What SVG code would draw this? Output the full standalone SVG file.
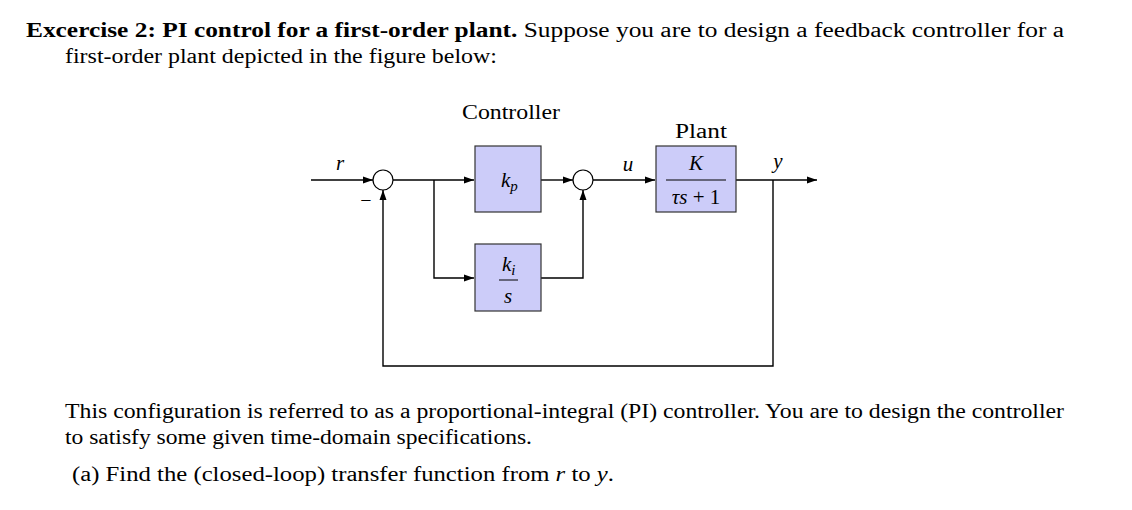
<svg xmlns="http://www.w3.org/2000/svg" width="1132" height="510" viewBox="0 0 1132 510">
<style>
text{font-family:"Liberation Serif","DejaVu Serif",serif;fill:#000}
.t{font-size:20px}
.m{font-size:21px;font-style:italic}
.blk{fill:#ccccf9;stroke:#333;stroke-width:1.2}
.sum{fill:#fff;stroke:#000;stroke-width:1.2}
.ln{fill:none;stroke:#000;stroke-width:1.4}
</style>
<defs><marker id="a" viewBox="0 0 10 10" refX="10" refY="5" markerWidth="10" markerHeight="10" markerUnits="userSpaceOnUse" orient="auto"><path d="M0,1.5L10,5L0,8.5z" fill="#000"/></marker></defs>
<rect width="1132" height="510" fill="#fff"/>
<text class="t" x="26" y="37" textLength="1038" lengthAdjust="spacingAndGlyphs"><tspan font-weight="bold">Excercise 2: PI control for a first-order plant.</tspan> Suppose you are to design a feedback controller for a</text>
<text class="t" x="65" y="63" textLength="432" lengthAdjust="spacingAndGlyphs">first-order plant depicted in the figure below:</text>
<g id="connectors">
<path class="ln" d="M311,180H373" marker-end="url(#a)"/>
<path class="ln" d="M393,180H474" marker-end="url(#a)"/>
<path class="ln" d="M434,180V278H474" marker-end="url(#a)"/>
<path class="ln" d="M541,180H573" marker-end="url(#a)"/>
<path class="ln" d="M541,278H583V190" marker-end="url(#a)"/>
<path class="ln" d="M593,180H655" marker-end="url(#a)"/>
<path class="ln" d="M736,180H817" marker-end="url(#a)"/>
<path class="ln" d="M773,180V366H383V190" marker-end="url(#a)"/>
</g>
<g id="sum1"><circle class="sum" cx="383" cy="180" r="10"/></g>
<g id="sum2"><circle class="sum" cx="583" cy="180" r="10"/></g>
<g id="kp"><rect class="blk" x="475" y="146" width="66" height="66"/><text class="m" x="501" y="187">k<tspan font-size="15" dy="4">p</tspan></text></g>
<g id="ki"><rect class="blk" x="475" y="244" width="66" height="67"/><text class="m" x="502" y="271">k<tspan font-size="15" dy="4">i</tspan></text><line x1="499" y1="280" x2="518" y2="280" stroke="#000"/><text class="m" x="508" y="303" text-anchor="middle">s</text></g>
<g id="plant"><rect class="blk" x="656" y="146" width="80" height="66"/><text class="m" x="696" y="170" text-anchor="middle">K</text><line x1="666" y1="180" x2="726" y2="180" stroke="#000"/><text class="m" x="696" y="204" text-anchor="middle">τs <tspan font-style="normal">+ 1</tspan></text></g>
<text class="m" x="340" y="170" text-anchor="middle">r</text>
<text class="t" x="366" y="207" text-anchor="middle">−</text>
<text class="t" x="511" y="119" text-anchor="middle" textLength="98" lengthAdjust="spacingAndGlyphs">Controller</text>
<text class="t" x="701" y="138" text-anchor="middle" textLength="52" lengthAdjust="spacingAndGlyphs">Plant</text>
<text class="m" x="628" y="171" text-anchor="middle">u</text>
<text class="m" x="778" y="168" text-anchor="middle">y</text>
<text class="t" x="65" y="418" textLength="999" lengthAdjust="spacingAndGlyphs">This configuration is referred to as a proportional-integral (PI) controller. You are to design the controller</text>
<text class="t" x="65" y="444" textLength="467" lengthAdjust="spacingAndGlyphs">to satisfy some given time-domain specifications.</text>
<text class="t" x="72" y="481" textLength="542" lengthAdjust="spacingAndGlyphs">(a) Find the (closed-loop) transfer function from <tspan font-style="italic">r</tspan> to <tspan font-style="italic">y</tspan>.</text>
</svg>
